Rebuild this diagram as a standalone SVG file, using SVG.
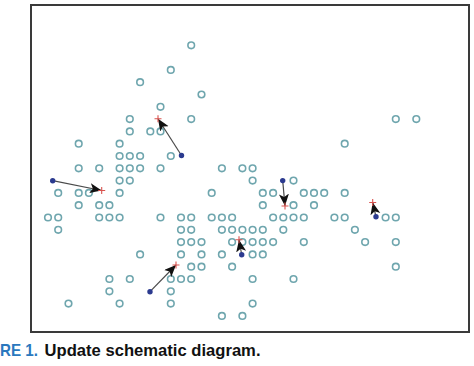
<svg xmlns="http://www.w3.org/2000/svg" width="474" height="366" viewBox="0 0 474 366">
<style>
.o{fill:none;stroke:#6fa6ae;stroke-width:1.6}
.ln{stroke:#4a4a4a;stroke-width:1.2;fill:none;marker-end:url(#ah)}
.bd{fill:#2b3a8f}
.cr{stroke:#d9534f;stroke-width:1.1}
.cap{font-family:"Liberation Sans",Arial,sans-serif;font-weight:bold;font-size:17px}
</style>
<defs>
<marker id="ah" markerUnits="userSpaceOnUse" markerWidth="14" markerHeight="11" refX="12" refY="5" orient="auto">
<path d="M0,0 L12,5 L0,10 L3,5 z" fill="#111"/>
</marker>
</defs>
<rect width="474" height="366" fill="#fff"/>
<rect id="frame" x="31" y="5" width="438" height="327" fill="#fff" stroke="#3a3a3a" stroke-width="2"/>
<g id="points">
<circle class="o" cx="191.2" cy="45.3" r="3.3"/>
<circle class="o" cx="170.8" cy="69.9" r="3.3"/>
<circle class="o" cx="140.1" cy="82.2" r="3.3"/>
<circle class="o" cx="201.5" cy="94.5" r="3.3"/>
<circle class="o" cx="160.5" cy="106.8" r="3.3"/>
<circle class="o" cx="129.8" cy="119.1" r="3.3"/>
<circle class="o" cx="191.2" cy="119.1" r="3.3"/>
<circle class="o" cx="395.8" cy="119.1" r="3.3"/>
<circle class="o" cx="416.3" cy="119.1" r="3.3"/>
<circle class="o" cx="129.8" cy="131.4" r="3.3"/>
<circle class="o" cx="150.3" cy="131.4" r="3.3"/>
<circle class="o" cx="160.5" cy="131.4" r="3.3"/>
<circle class="o" cx="78.7" cy="143.7" r="3.3"/>
<circle class="o" cx="119.6" cy="143.7" r="3.3"/>
<circle class="o" cx="344.7" cy="143.7" r="3.3"/>
<circle class="o" cx="119.6" cy="156" r="3.3"/>
<circle class="o" cx="129.8" cy="156" r="3.3"/>
<circle class="o" cx="140.1" cy="156" r="3.3"/>
<circle class="o" cx="170.8" cy="156" r="3.3"/>
<circle class="o" cx="78.7" cy="168.3" r="3.3"/>
<circle class="o" cx="99.2" cy="168.3" r="3.3"/>
<circle class="o" cx="119.6" cy="168.3" r="3.3"/>
<circle class="o" cx="129.8" cy="168.3" r="3.3"/>
<circle class="o" cx="140.1" cy="168.3" r="3.3"/>
<circle class="o" cx="160.5" cy="168.3" r="3.3"/>
<circle class="o" cx="221.9" cy="168.3" r="3.3"/>
<circle class="o" cx="242.4" cy="168.3" r="3.3"/>
<circle class="o" cx="252.6" cy="168.3" r="3.3"/>
<circle class="o" cx="119.6" cy="180.6" r="3.3"/>
<circle class="o" cx="129.8" cy="180.6" r="3.3"/>
<circle class="o" cx="252.6" cy="180.6" r="3.3"/>
<circle class="o" cx="293.5" cy="180.6" r="3.3"/>
<circle class="o" cx="58.2" cy="192.9" r="3.3"/>
<circle class="o" cx="78.7" cy="192.9" r="3.3"/>
<circle class="o" cx="88.9" cy="192.9" r="3.3"/>
<circle class="o" cx="119.6" cy="192.9" r="3.3"/>
<circle class="o" cx="211.7" cy="192.9" r="3.3"/>
<circle class="o" cx="262.8" cy="192.9" r="3.3"/>
<circle class="o" cx="273.1" cy="192.9" r="3.3"/>
<circle class="o" cx="303.8" cy="192.9" r="3.3"/>
<circle class="o" cx="314" cy="192.9" r="3.3"/>
<circle class="o" cx="324.2" cy="192.9" r="3.3"/>
<circle class="o" cx="344.7" cy="192.9" r="3.3"/>
<circle class="o" cx="78.7" cy="205.2" r="3.3"/>
<circle class="o" cx="99.2" cy="205.2" r="3.3"/>
<circle class="o" cx="109.4" cy="205.2" r="3.3"/>
<circle class="o" cx="262.8" cy="205.2" r="3.3"/>
<circle class="o" cx="293.5" cy="205.2" r="3.3"/>
<circle class="o" cx="314" cy="205.2" r="3.3"/>
<circle class="o" cx="48" cy="217.5" r="3.3"/>
<circle class="o" cx="58.2" cy="217.5" r="3.3"/>
<circle class="o" cx="99.2" cy="217.5" r="3.3"/>
<circle class="o" cx="109.4" cy="217.5" r="3.3"/>
<circle class="o" cx="119.6" cy="217.5" r="3.3"/>
<circle class="o" cx="160.5" cy="217.5" r="3.3"/>
<circle class="o" cx="181" cy="217.5" r="3.3"/>
<circle class="o" cx="191.2" cy="217.5" r="3.3"/>
<circle class="o" cx="211.7" cy="217.5" r="3.3"/>
<circle class="o" cx="221.9" cy="217.5" r="3.3"/>
<circle class="o" cx="232.1" cy="217.5" r="3.3"/>
<circle class="o" cx="273.1" cy="217.5" r="3.3"/>
<circle class="o" cx="283.3" cy="217.5" r="3.3"/>
<circle class="o" cx="293.5" cy="217.5" r="3.3"/>
<circle class="o" cx="303.8" cy="217.5" r="3.3"/>
<circle class="o" cx="334.4" cy="217.5" r="3.3"/>
<circle class="o" cx="344.7" cy="217.5" r="3.3"/>
<circle class="o" cx="385.6" cy="217.5" r="3.3"/>
<circle class="o" cx="395.8" cy="217.5" r="3.3"/>
<circle class="o" cx="58.2" cy="229.8" r="3.3"/>
<circle class="o" cx="181" cy="229.8" r="3.3"/>
<circle class="o" cx="191.2" cy="229.8" r="3.3"/>
<circle class="o" cx="221.9" cy="229.8" r="3.3"/>
<circle class="o" cx="232.1" cy="229.8" r="3.3"/>
<circle class="o" cx="242.4" cy="229.8" r="3.3"/>
<circle class="o" cx="252.6" cy="229.8" r="3.3"/>
<circle class="o" cx="262.8" cy="229.8" r="3.3"/>
<circle class="o" cx="283.3" cy="229.8" r="3.3"/>
<circle class="o" cx="354.9" cy="229.8" r="3.3"/>
<circle class="o" cx="181" cy="242.1" r="3.3"/>
<circle class="o" cx="191.2" cy="242.1" r="3.3"/>
<circle class="o" cx="201.5" cy="242.1" r="3.3"/>
<circle class="o" cx="232.1" cy="242.1" r="3.3"/>
<circle class="o" cx="242.4" cy="242.1" r="3.3"/>
<circle class="o" cx="252.6" cy="242.1" r="3.3"/>
<circle class="o" cx="262.8" cy="242.1" r="3.3"/>
<circle class="o" cx="273.1" cy="242.1" r="3.3"/>
<circle class="o" cx="303.8" cy="242.1" r="3.3"/>
<circle class="o" cx="365.1" cy="242.1" r="3.3"/>
<circle class="o" cx="395.8" cy="242.1" r="3.3"/>
<circle class="o" cx="140.1" cy="254.4" r="3.3"/>
<circle class="o" cx="181" cy="254.4" r="3.3"/>
<circle class="o" cx="201.5" cy="254.4" r="3.3"/>
<circle class="o" cx="221.9" cy="254.4" r="3.3"/>
<circle class="o" cx="252.6" cy="254.4" r="3.3"/>
<circle class="o" cx="262.8" cy="254.4" r="3.3"/>
<circle class="o" cx="191.2" cy="266.7" r="3.3"/>
<circle class="o" cx="201.5" cy="266.7" r="3.3"/>
<circle class="o" cx="232.1" cy="266.7" r="3.3"/>
<circle class="o" cx="395.8" cy="266.7" r="3.3"/>
<circle class="o" cx="109.4" cy="279" r="3.3"/>
<circle class="o" cx="129.8" cy="279" r="3.3"/>
<circle class="o" cx="170.8" cy="279" r="3.3"/>
<circle class="o" cx="181" cy="279" r="3.3"/>
<circle class="o" cx="191.2" cy="279" r="3.3"/>
<circle class="o" cx="252.6" cy="279" r="3.3"/>
<circle class="o" cx="293.5" cy="279" r="3.3"/>
<circle class="o" cx="109.4" cy="291.3" r="3.3"/>
<circle class="o" cx="170.8" cy="291.3" r="3.3"/>
<circle class="o" cx="68.5" cy="303.6" r="3.3"/>
<circle class="o" cx="119.6" cy="303.6" r="3.3"/>
<circle class="o" cx="170.8" cy="303.6" r="3.3"/>
<circle class="o" cx="252.6" cy="303.6" r="3.3"/>
<circle class="o" cx="221.9" cy="315.9" r="3.3"/>
<circle class="o" cx="242.4" cy="315.9" r="3.3"/>
</g>
<g id="connectors">
<line class="ln" x1="181.5" y1="155.5" x2="158" y2="118.8"/>
<line class="ln" x1="52.7" y1="180.7" x2="101.7" y2="190.5"/>
<line class="ln" x1="241.7" y1="254.7" x2="239" y2="239.8"/>
<line class="ln" x1="282.7" y1="180.6" x2="285" y2="206"/>
<line class="ln" x1="150" y1="291.7" x2="176" y2="265"/>
<line class="ln" x1="376" y1="216.8" x2="372.7" y2="202.5"/>
</g>
<g id="starts">
<circle class="bd" cx="181.5" cy="155.5" r="2.7"/>
<circle class="bd" cx="52.7" cy="180.7" r="2.7"/>
<circle class="bd" cx="241.7" cy="254.7" r="2.7"/>
<circle class="bd" cx="282.7" cy="180.6" r="2.7"/>
<circle class="bd" cx="150" cy="291.7" r="2.7"/>
<circle class="bd" cx="376" cy="216.8" r="2.7"/>
</g>
<g id="targets">
<path class="cr" d="M154.5,118.8h7M158,115.3v7"/>
<path class="cr" d="M98.2,190.5h7M101.7,187v7"/>
<path class="cr" d="M235.5,239.8h7M239,236.3v7"/>
<path class="cr" d="M281.5,206h7M285,202.5v7"/>
<path class="cr" d="M172.5,265h7M176,261.5v7"/>
<path class="cr" d="M369.2,202.5h7M372.7,199v7"/>
</g>
<g id="caption">
<text class="cap" x="0" y="356" fill="#2a78be" textLength="38" lengthAdjust="spacingAndGlyphs">RE 1.</text>
<text class="cap" x="44.5" y="356" fill="#111" textLength="216" lengthAdjust="spacingAndGlyphs">Update schematic diagram.</text>
</g>
</svg>
